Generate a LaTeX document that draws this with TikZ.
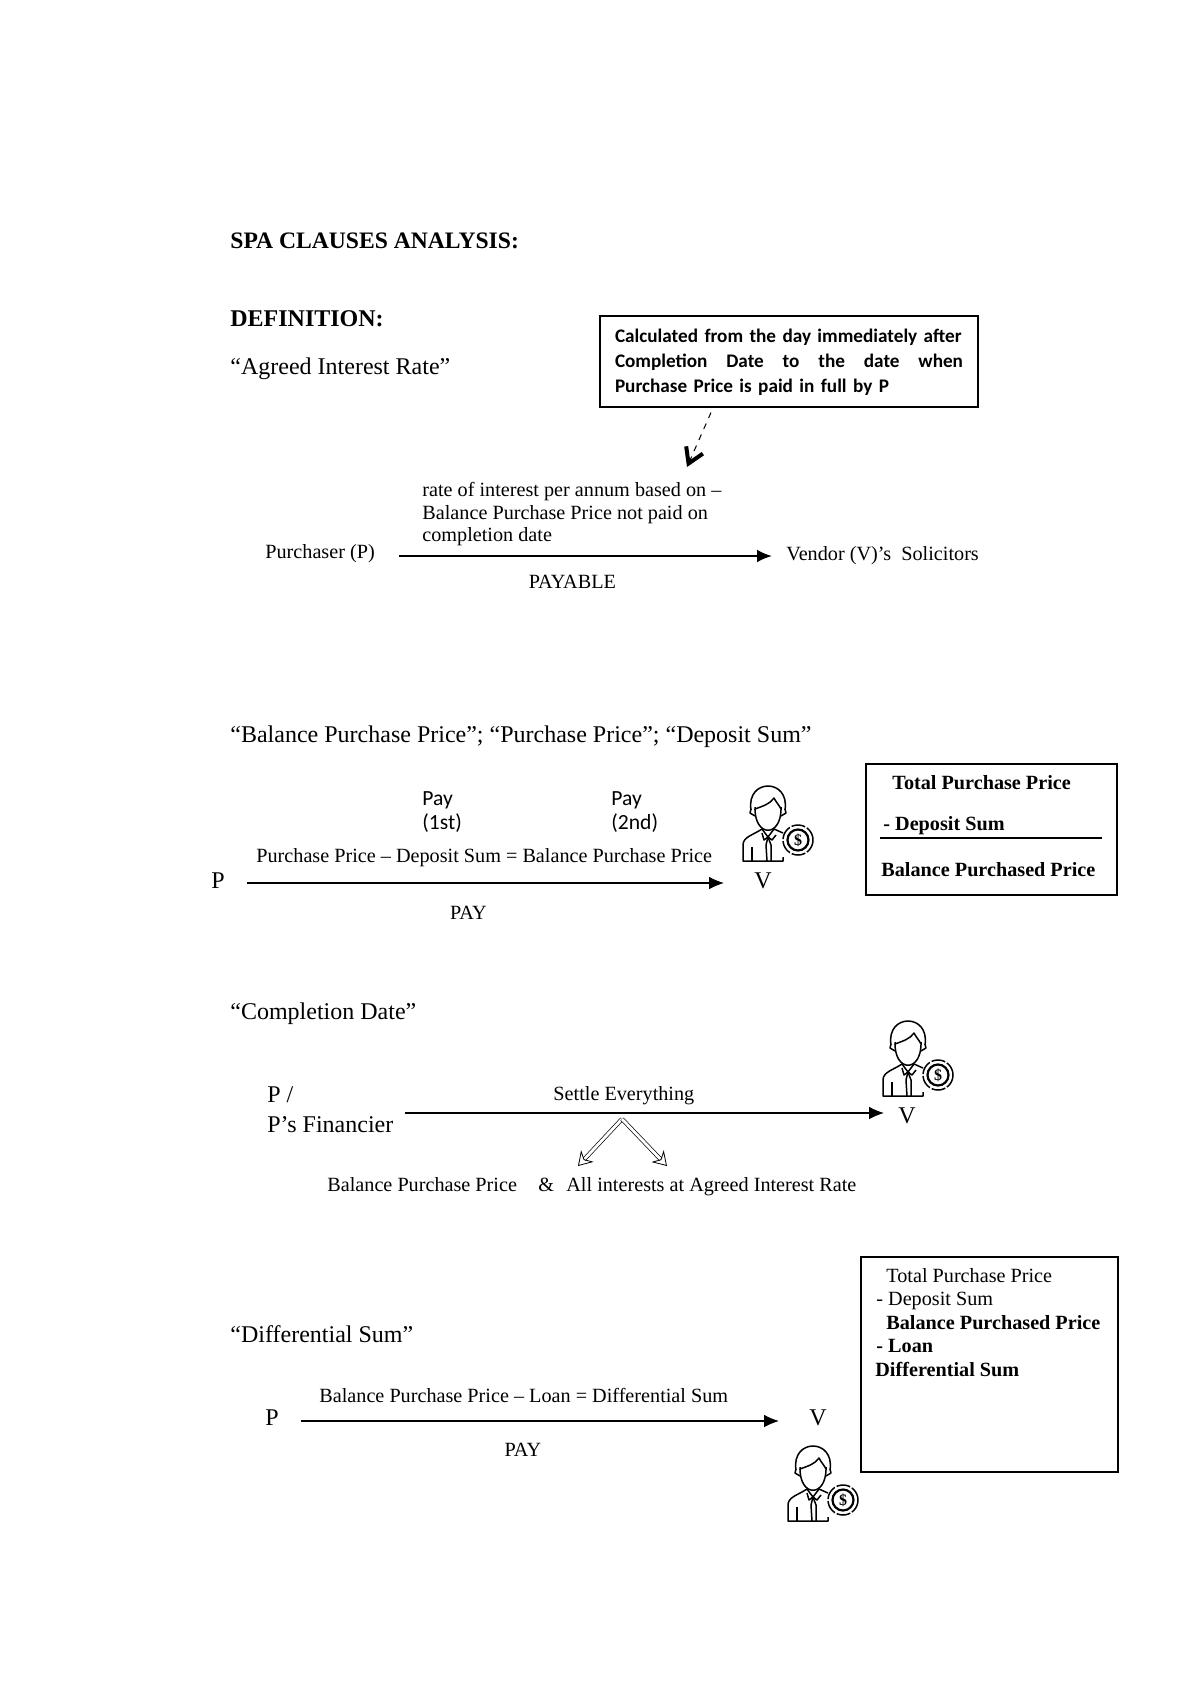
\documentclass[tikz,border=0pt]{standalone}
\usepackage{fontspec}
\setmainfont{Liberation Serif}
\newfontfamily\boxfont{Carlito}
\usetikzlibrary{positioning,arrows.meta}
\tikzset{
  vendor/.pic={
    % head, hair, shoulders
    \draw[icon] (8,25) .. controls (3,-7) and (47,-7) .. (42,25);
    \draw[icon] (12,24) .. controls (20,21) and (27,19) .. (31,13) .. controls (33,17) and (36,20) .. (38,24);
    \draw[icon] (12,22) .. controls (11,53) and (39,53) .. (38,22);
    \draw[icon] (8,24) -- (7,28) -- (12,31);
    \draw[icon] (42,24) -- (43,28) -- (38,31);
    \draw[icon] (40,72) -- (40,76) -- (0,76) -- (0,60) .. controls (0,52) and (10,50) .. (19,44);
    \draw[icon] (31,44) -- (40,48);
    \draw[icon] (19,44) -- (25,52) -- (31,44);
    \draw[icon] (19,48) -- (21,55) -- (25,52) -- (29,55) -- (33,50);
    \draw[icon] (25,52) -- (23,60) -- (24,76);
    \draw[icon] (25,52) -- (28,60) -- (28,76);
    \draw[icon] (9,62) -- (9,76);
    % coin
    \draw[icon, dash pattern=on 7pt off 1pt, fill=white] (55,55) circle (15);
    \draw[icon, fill=white, line width=1.1pt] (55,55) circle (10.5);
    \node[inner sep=0pt, font=\bfseries\footnotesize] (-coin) at (55,55) {\$};
  },
  icon/.style={line width=.75pt, line join=round}
}
\begin{document}
\begin{tikzpicture}[
  x=0.5pt, y=-0.5pt,
  node distance=2mm,
  head/.style={inner sep=0pt, anchor=west, font=\fontsize{12}{14}\selectfont},
  lab/.style={inner sep=0pt, font=\fontsize{10.1}{11}\selectfont},
  bold lab/.style={lab, anchor=west, font=\bfseries\fontsize{10.1}{11}\selectfont},
  big/.style={inner sep=0pt, anchor=west, font=\fontsize{12}{14}\selectfont},
  pay/.style={inner sep=0pt, align=left, anchor=north west, font=\boxfont\fontsize{10.8}{12}\selectfont},
  frame/.style={draw, line width=.55pt},
  arr/.style={-{Latex[length=2.6mm,width=2.2mm]}, line width=1pt},
  thin arr/.style={-{Latex[length=2.6mm,width=2.2mm]}, line width=.55pt},
  open arr/.style={double, double distance=1.4pt, line width=.35pt,
                   -{Stealth[open,length=2.4mm,width=3mm,line width=.4pt]}}
]
  \useasboundingbox (0,0) rectangle (1200,1698);

  \node[head, font=\bfseries\fontsize{11.8}{14}\selectfont] (title) at (230,241) {SPA CLAUSES ANALYSIS:};
  \node[head, font=\bfseries\fontsize{12}{14}\selectfont] (defn) at (230,319) {DEFINITION:};
  \node[head] (agreed) at (230,369) {“Agreed Interest Rate”};

  % agreed interest rate
  \node[frame, minimum width=189pt, minimum height=45.5pt, inner sep=0pt] (calc) at (789,361.5) {};
  \node[inner sep=0pt, text width=174pt, align=left, font=\boxfont\bfseries\fontsize{9.6}{12.4}\selectfont] (calctxt) at (789,362)
    {\makebox[174pt][s]{Calculated from the day immediately after}\\
     \makebox[174pt][s]{Completion\hfill Date\hfill to\hfill the\hfill date\hfill when}\\
     Purchase Price is paid in full by P};
  \node[lab, anchor=north west, align=left, font=\fontsize{10.1}{11.3}\selectfont] (rate) at (422,482)
    {rate of interest per annum based on –\\Balance Purchase Price not paid on\\completion date};
  \coordinate (ratetop) at (687,467);
  \draw[line width=.5pt, dashed, -{Straight Barb[length=2.6mm,width=3.2mm,line width=2pt]}]
    (calc.south -| 711,0) ++(0,5) -- (ratetop);
  \node[lab, anchor=west] (pur) at (265,554) {Purchaser (P)};
  \node[lab, anchor=west] (ven) at (786,556) {Vendor (V)’s\ \ Solicitors};
  \draw[arr, shorten <=12pt, shorten >=7pt] (pur.east |- 0,556) -- (ven.west |- 0,556)
    node[lab, pos=.48, below=9pt] (payable) {PAYABLE};

  % balance purchase price
  \node[head] (bal) at (230,737) {“Balance Purchase Price”; “Purchase Price”; “Deposit Sum”};
  \node[pay] (first) at (422,791) {Pay\\(1st)};
  \node[pay] (second) at (611,791) {Pay\\(2nd)};
  \node[lab, anchor=west] (formula) at (256,858) {Purchase Price – Deposit Sum = Balance Purchase Price};
  \node[big] (p1) at (211,881) {P};
  \node[big, anchor=center] (v1) at (763,881) {V};
  \draw[thin arr, shorten <=11pt, shorten >=15pt] (p1.east |- 0,883) -- (v1.west |- 0,883)
    node[lab, pos=.46, below=11.5pt] (pay1) {PAY};
  \pic (icon1) at (743,785) {vendor};
  \node[frame, minimum width=125.5pt, minimum height=65.5pt, inner sep=0pt] (sum1) at (991.5,829.5) {};
  \node[bold lab] (tot1) at (892,783) {Total Purchase Price};
  \node[bold lab] (dep1) at (883,826) {- Deposit Sum};
  \node[bold lab] (bpp1) at (881,870) {Balance Purchased Price};
  \coordinate (rule1) at (880,838);
  \coordinate (rule2) at (1102,838);
  \draw[line width=1.1pt] (rule1) -- (rule2);

  % completion date
  \node[head] (comp) at (230,1014) {“Completion Date”};
  \node[big, anchor=north west, align=left, font=\fontsize{12}{15}\selectfont] (p2) at (267,1086) {P /\\P’s Financier};
  \node[big, anchor=center] (v2) at (907,1116) {V};
  \coordinate (start2) at (405,1113);
  \draw[thin arr, shorten >=7pt] (start2) -- (v2.west |- start2)
    node[lab, pos=.444, above=3.8pt] (settle) {Settle Everything};
  \pic (icon2) at (883,1020) {vendor};
  \coordinate (apex) at (622,1119);
  \coordinate (left) at (578,1166);
  \coordinate (right) at (667,1166);
  \draw[open arr] (apex) -- (left);
  \draw[open arr] (apex) -- (right);
  \node[lab, anchor=west] (bal2) at (327,1185) {Balance Purchase Price};
  \node[lab, anchor=west] (amp) at (538,1185) {\&};
  \node[lab, anchor=west] (ints) at (566,1187) {All interests at Agreed Interest Rate};

  % differential sum
  \node[head] (diff) at (230,1334) {“Differential Sum”};
  \node[lab, anchor=west] (formula2) at (319,1395) {Balance Purchase Price – Loan = Differential Sum};
  \node[big] (p3) at (265,1418) {P};
  \node[big, anchor=center] (v3) at (818,1418) {V};
  \draw[thin arr, shorten <=11pt, shorten >=15pt] (p3.east |- 0,1421) -- (v3.west |- 0,1421)
    node[lab, pos=.46, below=11pt] (pay2) {PAY};
  \pic (icon3) at (788,1445) {vendor};
  \node[frame, minimum width=128.5pt, minimum height=107.5pt, inner sep=0pt] (sum2) at (989.5,1364.5) {};
  \node[lab, anchor=west] (tot2) at (886,1276) {Total Purchase Price};
  \node[lab, anchor=west] (dep2) at (876,1301) {- Deposit Sum};
  \node[bold lab] (bpp2) at (886,1323) {Balance Purchased Price};
  \node[bold lab] (loan) at (876,1346) {- Loan};
  \node[bold lab] (dsum) at (875,1369) {Differential Sum};
\end{tikzpicture}
\end{document}
